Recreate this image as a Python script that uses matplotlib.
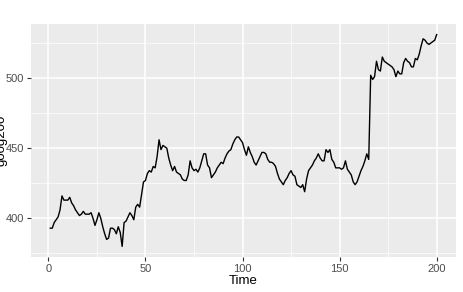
import numpy as np
import matplotlib
matplotlib.use("Agg")
from matplotlib import pyplot as plt
from matplotlib.ticker import MultipleLocator

plt.rcParams['font.family'] = ['Liberation Sans', 'DejaVu Sans']

# goog200 closing prices
goog200 = [
    393, 393, 397, 399, 401, 406, 416, 413, 413, 413,
    415, 411, 409, 406, 404, 402, 403, 405, 403, 403,
    403, 404, 400, 395, 399, 404, 400, 394, 389, 385,
    386, 393, 393, 392, 389, 394, 390, 380, 397, 398,
    401, 404, 402, 399, 408, 410, 408, 417, 426, 427,
    432, 434, 433, 437, 436, 444, 456, 449, 452, 451,
    450, 443, 438, 434, 437, 433, 432, 431, 428, 427,
    427, 431, 441, 436, 434, 435, 433, 436, 441, 446,
    446, 438, 436, 429, 431, 433, 436, 438, 440, 439,
    443, 446, 448, 449, 453, 456, 458, 458, 456, 454,
    449, 445, 451, 447, 444, 440, 438, 441, 444, 447,
    447, 446, 442, 440, 440, 439, 437, 432, 428, 426,
    424, 427, 429, 432, 434, 431, 430, 424, 423, 422,
    424, 419, 428, 434, 436, 438, 441, 443, 446, 443,
    441, 441, 449, 447, 449, 442, 440, 436, 436, 436,
    435, 436, 441, 435, 433, 431, 426, 424, 426, 430,
    434, 437, 441, 446, 442, 502, 499, 501, 512, 506,
    505, 515, 512, 511, 510, 509, 508, 506, 501, 505,
    503, 503, 511, 514, 512, 511, 508, 508, 514, 513,
    517, 523, 528, 527, 525, 524, 525, 526, 527, 531,
]
time = np.arange(1, len(goog200) + 1)

x_ticks = [0, 50, 100, 150, 200]
y_ticks = [400, 450, 500]

fig = plt.figure(figsize=(4.63, 2.92), dpi=100)
ax = fig.add_axes([31 / 463, 1 - 257 / 292, 425 / 463, 233 / 292])
ax.set_facecolor("#EBEBEB")

ax.plot(time, goog200, color="black", lw=1.0)

n = len(goog200)
ax.set_xlim(1 - 0.05 * (n - 1), n + 0.05 * (n - 1))
lo, hi = min(goog200), max(goog200)
ax.set_ylim(lo - 0.05 * (hi - lo), hi + 0.05 * (hi - lo))

ax.set_xticks(x_ticks)
ax.set_yticks(y_ticks)
ax.xaxis.set_minor_locator(MultipleLocator(25))
ax.yaxis.set_minor_locator(MultipleLocator(25))
ax.grid(which="major", color="white", lw=1.1)
ax.grid(which="minor", color="white", lw=0.5)
ax.set_axisbelow(True)
for s in ax.spines.values():
    s.set_visible(False)

ax.tick_params(which="major", length=3, width=0.8, color="#333333",
               labelsize=8, labelcolor="#4D4D4D", pad=2)
ax.tick_params(which="minor", length=0)

ax.set_xlabel("Time", fontsize=9.5, labelpad=1)
ax.set_ylabel("goog200", fontsize=9.5)
ax.yaxis.set_label_coords(-24 / 425, 0.5)

fig.savefig("out.png", dpi=100)
